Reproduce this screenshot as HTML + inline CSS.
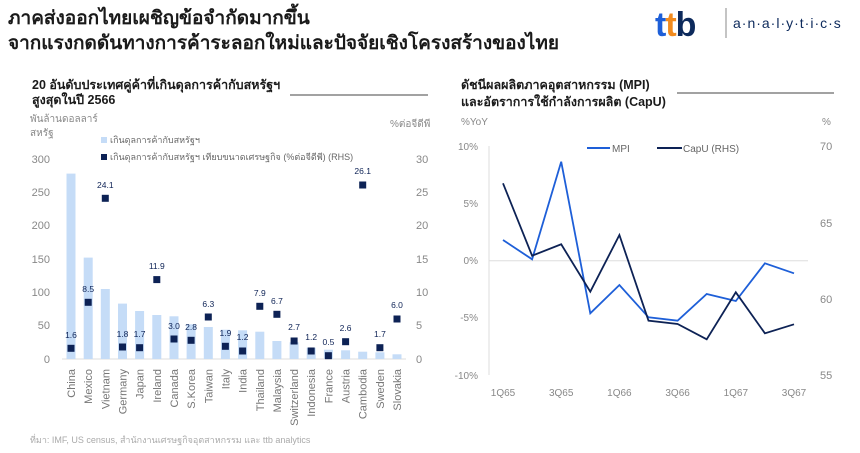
<!DOCTYPE html>
<html><head><meta charset="utf-8"><style>
body{margin:0;background:#fff;}
svg{display:block;font-family:"Liberation Sans","Noto Sans CJK SC",sans-serif;}
</style></head><body>
<svg width="860" height="453" viewBox="0 0 860 453" xmlns="http://www.w3.org/2000/svg">
<rect width="860" height="453" fill="#fff"/>
<text x="8" y="24" font-size="19" fill="#1a1a1a" font-weight="bold">ภาคส่งออกไทยเผชิญข้อจำกัดมากขึ้น</text>
<text x="8" y="49" font-size="19" fill="#1a1a1a" font-weight="bold">จากแรงกดดันทางการค้าระลอกใหม่และปัจจัยเชิงโครงสร้างของไทย</text>
<!-- logo -->
<text x="655" y="36" font-size="34" font-weight="bold" fill="#1e5fd8" letter-spacing="-1">t<tspan fill="#f28b1e">t</tspan><tspan fill="#0d2a5c">b</tspan></text>
<line x1="726" y1="8" x2="726" y2="38" stroke="#888" stroke-width="1"/>
<text x="733" y="28" font-size="14" fill="#0d2a5c" letter-spacing="1">a·n·a·l·y·t·i·c·s</text>

<!-- LEFT CHART -->
<text x="32" y="89" font-size="12.5" font-weight="bold" fill="#1a1a1a">20 อันดับประเทศคู่ค้าที่เกินดุลการค้ากับสหรัฐฯ</text>
<text x="32" y="104" font-size="12.5" font-weight="bold" fill="#1a1a1a">สูงสุดในปี 2566</text>
<line x1="290" y1="95" x2="428" y2="95" stroke="#444" stroke-width="1"/>
<text x="30" y="122" font-size="10" fill="#888">พันล้านดอลลาร์</text>
<text x="30" y="136" font-size="10" fill="#888">สหรัฐ</text>
<text x="390" y="127" font-size="10" fill="#888">%ต่อจีดีพี</text>
<rect x="101" y="137" width="6" height="6" fill="#c5dcf7"/>
<text x="110" y="143" font-size="9" fill="#666">เกินดุลการค้ากับสหรัฐฯ</text>
<rect x="101" y="154" width="6" height="6" fill="#0d2255"/>
<text x="110" y="160" font-size="9" fill="#666">เกินดุลการค้ากับสหรัฐฯ เทียบขนาดเศรษฐกิจ (%ต่อจีดีพี) (RHS)</text>
<g font-size="11" fill="#888" text-anchor="end">
<text x="50" y="163">300</text><text x="50" y="196">250</text><text x="50" y="229">200</text><text x="50" y="263">150</text><text x="50" y="296">100</text><text x="50" y="329">50</text><text x="50" y="363">0</text>
</g>
<g font-size="11" fill="#888">
<text x="416" y="163">30</text><text x="416" y="196">25</text><text x="416" y="229">20</text><text x="416" y="263">15</text><text x="416" y="296">10</text><text x="416" y="329">5</text><text x="416" y="363">0</text>
</g>
<line x1="62" y1="359" x2="406" y2="359" stroke="#ddd"/>
<g fill="#c5dcf7">
<rect x="66.5" y="173.6" width="9" height="185.4"/>
<rect x="83.7" y="257.6" width="9" height="101.4"/>
<rect x="100.8" y="289" width="9" height="70"/>
<rect x="118" y="303.6" width="9" height="55.4"/>
<rect x="135.1" y="311" width="9" height="48"/>
<rect x="152.3" y="315" width="9" height="44"/>
<rect x="169.5" y="316.3" width="9" height="42.7"/>
<rect x="186.6" y="324.3" width="9" height="34.7"/>
<rect x="203.8" y="327" width="9" height="32"/>
<rect x="220.9" y="329.7" width="9" height="29.3"/>
<rect x="238.1" y="330.3" width="9" height="28.7"/>
<rect x="255.3" y="331.7" width="9" height="27.3"/>
<rect x="272.4" y="341" width="9" height="18"/>
<rect x="289.6" y="342.3" width="9" height="16.7"/>
<rect x="306.7" y="347.7" width="9" height="11.3"/>
<rect x="323.9" y="349.7" width="9" height="9.3"/>
<rect x="341.1" y="350.3" width="9" height="8.7"/>
<rect x="358.2" y="351.7" width="9" height="7.3"/>
<rect x="375.4" y="352.3" width="9" height="6.7"/>
<rect x="392.5" y="354.3" width="9" height="4.7"/>
</g>
<g fill="#0d2255">
<rect x="67.5" y="344.8" width="7" height="7"/>
<rect x="84.7" y="298.8" width="7" height="7"/>
<rect x="101.8" y="194.8" width="7" height="7"/>
<rect x="119" y="343.5" width="7" height="7"/>
<rect x="136.1" y="344.2" width="7" height="7"/>
<rect x="153.3" y="276.1" width="7" height="7"/>
<rect x="170.5" y="335.5" width="7" height="7"/>
<rect x="187.6" y="336.8" width="7" height="7"/>
<rect x="204.8" y="313.5" width="7" height="7"/>
<rect x="221.9" y="342.8" width="7" height="7"/>
<rect x="239.1" y="347.5" width="7" height="7"/>
<rect x="256.3" y="302.8" width="7" height="7"/>
<rect x="273.4" y="310.8" width="7" height="7"/>
<rect x="290.6" y="337.5" width="7" height="7"/>
<rect x="307.7" y="347.5" width="7" height="7"/>
<rect x="324.9" y="352.2" width="7" height="7"/>
<rect x="342.1" y="338.2" width="7" height="7"/>
<rect x="359.2" y="181.5" width="7" height="7"/>
<rect x="376.4" y="344.2" width="7" height="7"/>
<rect x="393.5" y="315.5" width="7" height="7"/>
</g>
<g font-size="8.5" fill="#0d2255" text-anchor="middle">
<text x="71" y="338">1.6</text><text x="88.2" y="292">8.5</text><text x="105.3" y="188">24.1</text>
<text x="122.5" y="337">1.8</text><text x="139.6" y="337">1.7</text><text x="156.8" y="269">11.9</text>
<text x="174" y="329">3.0</text><text x="191.1" y="330">2.8</text><text x="208.3" y="307">6.3</text>
<text x="225.4" y="336">1.9</text><text x="242.6" y="340">1.2</text><text x="259.8" y="296">7.9</text>
<text x="276.9" y="304">6.7</text><text x="294.1" y="330">2.7</text><text x="311.2" y="340">1.2</text>
<text x="328.4" y="345">0.5</text><text x="345.6" y="331">2.6</text><text x="362.7" y="174">26.1</text>
<text x="379.9" y="337">1.7</text><text x="397" y="308">6.0</text>
</g>
<g font-size="11" fill="#777" text-anchor="end">
<text transform="translate(75,369) rotate(-90)">China</text>
<text transform="translate(92.2,369) rotate(-90)">Mexico</text>
<text transform="translate(109.3,369) rotate(-90)">Vietnam</text>
<text transform="translate(126.5,369) rotate(-90)">Germany</text>
<text transform="translate(143.6,369) rotate(-90)">Japan</text>
<text transform="translate(160.8,369) rotate(-90)">Ireland</text>
<text transform="translate(178,369) rotate(-90)">Canada</text>
<text transform="translate(195.1,369) rotate(-90)">S.Korea</text>
<text transform="translate(212.3,369) rotate(-90)">Taiwan</text>
<text transform="translate(229.4,369) rotate(-90)">Italy</text>
<text transform="translate(246.6,369) rotate(-90)">India</text>
<text transform="translate(263.8,369) rotate(-90)">Thailand</text>
<text transform="translate(280.9,369) rotate(-90)">Malaysia</text>
<text transform="translate(298.1,369) rotate(-90)">Switzerland</text>
<text transform="translate(315.2,369) rotate(-90)">Indonesia</text>
<text transform="translate(332.4,369) rotate(-90)">France</text>
<text transform="translate(349.6,369) rotate(-90)">Austria</text>
<text transform="translate(366.7,369) rotate(-90)">Cambodia</text>
<text transform="translate(383.9,369) rotate(-90)">Sweden</text>
<text transform="translate(401,369) rotate(-90)">Slovakia</text>
</g>
<text x="30" y="443" font-size="9" fill="#aaa">ที่มา: IMF, US census, สำนักงานเศรษฐกิจอุตสาหกรรม และ ttb analytics</text>

<!-- RIGHT CHART -->
<text x="461" y="89" font-size="12.5" font-weight="bold" fill="#1a1a1a">ดัชนีผลผลิตภาคอุตสาหกรรม (MPI)</text>
<text x="461" y="106" font-size="12.5" font-weight="bold" fill="#1a1a1a">และอัตราการใช้กำลังการผลิต (CapU)</text>
<line x1="677" y1="93" x2="834" y2="93" stroke="#444" stroke-width="1"/>
<text x="461" y="125" font-size="10" fill="#888">%YoY</text>
<text x="822" y="125" font-size="10" fill="#888">%</text>
<g font-size="10" fill="#888" text-anchor="end">
<text x="478" y="150">10%</text><text x="478" y="207">5%</text><text x="478" y="264">0%</text><text x="478" y="321">-5%</text><text x="478" y="379">-10%</text>
</g>
<g font-size="11" fill="#888">
<text x="820" y="150">70</text><text x="820" y="227">65</text><text x="820" y="303">60</text><text x="820" y="379">55</text>
</g>
<line x1="489" y1="146" x2="489" y2="375" stroke="#ddd"/>
<line x1="489" y1="260.7" x2="808" y2="260.7" stroke="#ddd"/>
<line x1="587" y1="148" x2="610" y2="148" stroke="#1e5fd8" stroke-width="2"/>
<text x="612" y="152" font-size="10" fill="#666">MPI</text>
<line x1="657" y1="148" x2="682" y2="148" stroke="#0d2255" stroke-width="2"/>
<text x="683" y="152" font-size="10" fill="#666">CapU (RHS)</text>
<polyline fill="none" stroke="#1e5fd8" stroke-width="1.8" points="503,240 532.1,259.3 561.2,161.7 590.3,313.3 619.4,285 648.5,317.3 677.6,320.7 706.7,294 735.8,301 764.9,263.3 794,273.3"/>
<polyline fill="none" stroke="#0d2255" stroke-width="1.8" points="503,183.3 532.1,255.7 561.2,244.3 590.3,291.7 619.4,235 648.5,320.7 677.6,324 706.7,339.3 735.8,292.3 764.9,333.3 794,324.3"/>
<g font-size="10" fill="#888" text-anchor="middle">
<text x="503" y="396">1Q65</text><text x="561.2" y="396">3Q65</text><text x="619.4" y="396">1Q66</text><text x="677.6" y="396">3Q66</text><text x="735.8" y="396">1Q67</text><text x="794" y="396">3Q67</text>
</g>
</svg>
</body></html>
